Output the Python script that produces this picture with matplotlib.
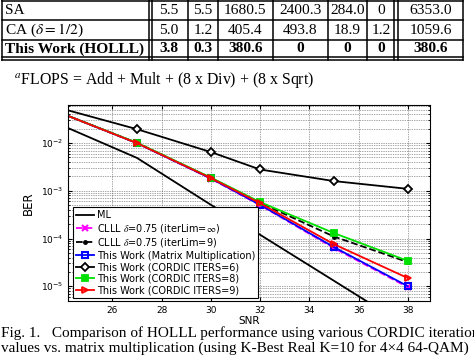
import matplotlib
matplotlib.use("Agg")
import matplotlib.pyplot as plt
from matplotlib.lines import Line2D

plt.rcParams['mathtext.fontset'] = 'stix'

# --- tabela (górna część strony) ---
row_names = ["SA", r"CA ($\delta = 1/2$)", "This Work (HOLLL)"]
row_vals = [
    ["5.5", "5.5", "1680.5", "2400.3", "284.0", "0", "6353.0"],
    ["5.0", "1.2", "405.4", "493.8", "18.9", "1.2", "1059.6"],
    ["3.8", "0.3", "380.6", "0", "0", "0", "380.6"],
]
footnote = r"$^{a}$FLOPS = Add + Mult + (8 x Div) + (8 x Sqrt)"
caption = ["Fig. 1.   Comparison of HOLLL performance using various CORDIC iteration",
           "values vs. matrix multiplication (using K-Best Real K=10 for 4\u00d74 64-QAM)"]

# --- dane wykresu ---
snr = [24, 27, 30, 32, 35, 38]
ber_ml = [0.023, 4.9e-3, 5.1e-4, 1.2e-4, 1.3e-5, 1.4e-6]
ber_clll_inf = [0.041, 0.0100, 1.80e-3, 5.0e-4, 6.3e-5, 9.5e-6]
ber_clll_9 = [0.041, 0.0101, 1.85e-3, 5.6e-4, 1.1e-4, 3.2e-5]
ber_matmul = [0.041, 0.0100, 1.82e-3, 5.1e-4, 6.6e-5, 1.0e-5]
ber_cordic6 = [0.052, 0.0196, 6.5e-3, 2.8e-3, 1.6e-3, 1.1e-3]
ber_cordic8 = [0.041, 0.0102, 1.90e-3, 5.8e-4, 1.3e-4, 3.4e-5]
ber_cordic9 = [0.041, 0.0100, 1.85e-3, 5.5e-4, 7.6e-5, 1.48e-5]

W, H = 474, 361
fig = plt.figure(figsize=(W / 100, H / 100), dpi=100)

# warstwa w pikselach dla tabeli i podpisu
page = fig.add_axes([0, 0, 1, 1])
page.set_xlim(0, W)
page.set_ylim(H, 0)
page.axis('off')

serif = 'Liberation Serif'
fs = 11.1
col_x = [2, 149, 152, 188, 218, 273, 328, 367, 394, 398, 463]
row_y = [0.5, 20, 39.5, 57, 59.5]
for y in row_y:
    page.add_line(Line2D([2, 463], [y, y], color='k', lw=1.1))
for x in col_x:
    page.add_line(Line2D([x, x], [0, 59.5], color='k', lw=1.1))

centers = [169, 203, 245.5, 300.5, 347.5, 381, 431]
text_y = [10, 30, 49]
for i, name in enumerate(row_names):
    weight = 'bold' if i == 2 else 'normal'
    page.text(5, text_y[i], name, family=serif, fontsize=fs, weight=weight,
              ha='left', va='center')
    for cx, v in zip(centers, row_vals[i]):
        page.text(cx, text_y[i], v, family=serif, fontsize=fs, weight=weight,
                  ha='center', va='center')

page.text(14, 80, footnote, family=serif, fontsize=11.4, ha='left', va='center')
# pierwsza linia podpisu jest w oryginale ucięta na prawej krawędzi
page.text(1, 333, caption[0], family=serif, fontsize=11.0, ha='left', va='center')
page.text(1, 348, caption[1], family=serif, fontsize=11.0, ha='left', va='center')

# --- wykres BER ---
ax = fig.add_axes([68 / W, 1 - 301 / H, 362 / W, 196 / H])
ax.set_yscale('log')

lw = 1.3
ax.plot(snr, ber_ml, '-', color='k', lw=lw, label='ML')
ax.plot(snr, ber_clll_inf, '--', color='magenta', lw=lw, marker='x', ms=5, mew=1.5,
        label=r'CLLL $\delta$=0.75 (iterLim=$\infty$)')
ax.plot(snr, ber_clll_9, '--', color='k', lw=lw, marker='.', ms=5,
        label=r'CLLL $\delta$=0.75 (iterLim=9)')
ax.plot(snr, ber_matmul, '-', color='b', lw=lw, marker='s', ms=4, mfc='none', mew=1.5,
        label='This Work (Matrix Multiplication)')
ax.plot(snr, ber_cordic6, '-', color='k', lw=lw, marker='D', ms=4, mfc='white', mew=1.3,
        label='This Work (CORDIC ITERS=6)')
ax.plot(snr, ber_cordic8, '-', color='#00e000', lw=lw, marker='s', ms=4, mew=1.3,
        label='This Work (CORDIC ITERS=8)')
ax.plot(snr, ber_cordic9, '-', color='red', lw=lw, marker='>', ms=4.5, mfc='none', mew=1.3,
        label='This Work (CORDIC ITERS=9)')

ax.set_xlim(24.2, 38.9)
ax.set_ylim(4.9e-6, 0.063)
ax.set_xticks([26, 28, 30, 32, 34, 36, 38])
ax.set_yticks([1e-5, 1e-4, 1e-3, 1e-2])
ax.tick_params(which='both', direction='in', top=True, right=True, labelsize=6.5)
ax.tick_params(which='major', length=3)
ax.tick_params(which='minor', length=1.5)
ax.grid(True, which='major', ls=(0, (1, 1.5)), color='0.3', lw=0.5)
ax.grid(True, which='minor', axis='y', ls=(0, (1, 1.5)), color='0.3', lw=0.5)
for s in ax.spines.values():
    s.set_linewidth(0.8)
ax.set_xlabel('SNR', fontsize=7.5, labelpad=1)
ax.set_ylabel('BER', fontsize=8.5, labelpad=4)

leg = ax.legend(loc='lower left', bbox_to_anchor=(0.015, 0.015), borderaxespad=0,
                fontsize=7, handlelength=1.8, handletextpad=0.3, labelspacing=0.15,
                borderpad=0.3, fancybox=False, framealpha=1, edgecolor='k')
leg.get_frame().set_linewidth(0.8)

fig.savefig('out.png', dpi=100)
